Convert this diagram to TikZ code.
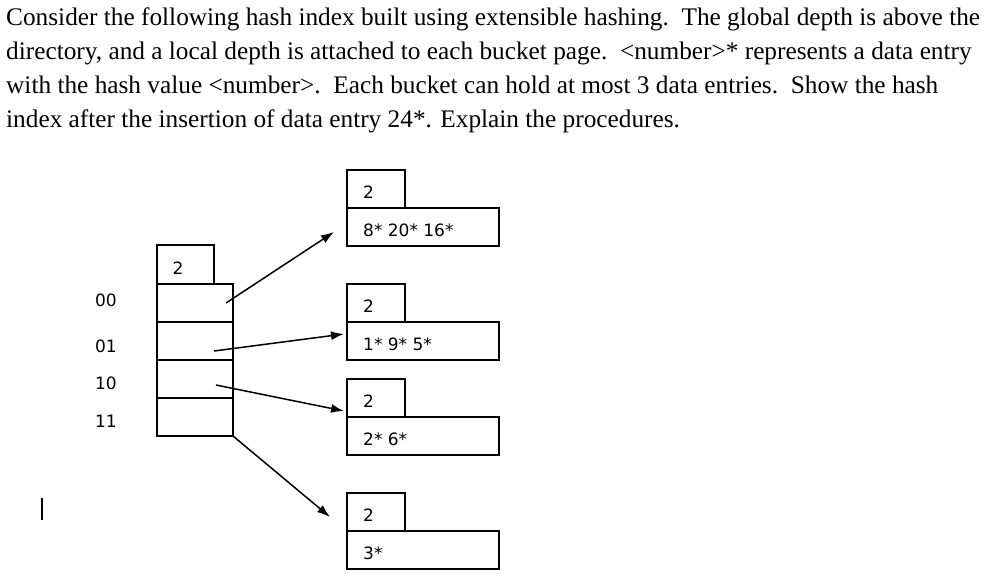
\documentclass[tikz,border=0pt]{standalone}
\usepackage{fontspec}
\usetikzlibrary{arrows.meta}
\setmainfont{Liberation Serif}
\newfontfamily\lblfont{DejaVu Sans}
\begin{document}
\begin{tikzpicture}[x=1pt,y=-1pt,
  txt/.style={anchor=base west,inner sep=0pt,font=\fontsize{25.3}{28}\selectfont},
  box/.style={draw,line width=1.6pt},
  lbl/.style={font=\lblfont\fontsize{17}{20}\selectfont,inner sep=0pt},
  arr/.style={-{Latex[length=13pt,width=9pt]},line width=1.5pt}]
\useasboundingbox (0,0) rectangle (988,576);
\node[txt] (t1) at (6,25) {Consider the following hash index built using extensible hashing.\ \ The global depth is above the};
\node[txt] (t2) at (6,59) {directory, and a local depth is attached to each bucket page.\ \ <number>* represents a data entry};
\node[txt] (t3) at (6,93) {with the hash value <number>.\ \ Each bucket can hold at most 3 data entries.\ \ Show the hash};
\node[txt] (t4) at (6,127) {index after the insertion of data entry 24*. Explain the procedures.};
% directory
\draw[box] (157,245) rectangle (214,284);
\node[lbl] (gd) at (178,268) {2};
\foreach \y in {284,322,360,398}
  \draw[box] (157,\y) rectangle (233,\y+38);
\node[lbl] (l0) at (106,300) {00};
\node[lbl] (l1) at (106,346) {01};
\node[lbl] (l2) at (106,383) {10};
\node[lbl] (l3) at (106,421) {11};
% buckets
\foreach \y/\d in {170/{8* 20* 16*},284/{1* 9* 5*},379/{2* 6*},493/{3*}}{
  \draw[box] (347,\y) rectangle (405,\y+38);
  \draw[box] (347,\y+38) rectangle (499,\y+76);
  \node[lbl,anchor=west] at (363,\y+22) {2};
  \node[lbl,anchor=west] at (363,\y+60) {\d};
}
\coordinate (s1) at (226,303); \coordinate (e1) at (334,232);
\coordinate (s2) at (214,351); \coordinate (e2) at (344,334);
\coordinate (s3) at (216,385); \coordinate (e3) at (344,411);
\coordinate (s4) at (233,436); \coordinate (e4) at (330,517);
\draw[arr] (s1) -- (e1);
\draw[arr] (s2) -- (e2);
\draw[arr] (s3) -- (e3);
\draw[arr] (s4) -- (e4);
\draw[line width=1.5pt] (42,498) -- (42,520);
\end{tikzpicture}
\end{document}
